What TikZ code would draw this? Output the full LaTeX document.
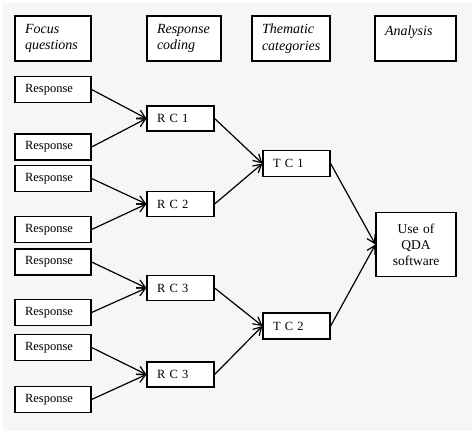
\documentclass[tikz,border=0pt]{standalone}
\usepackage{fontspec}
\setmainfont{Liberation Serif}
\usetikzlibrary{arrows.meta}

\begin{document}
\begin{tikzpicture}[
            x = 1pt, y = -1pt, % pixel like units, y downwards
            > = {Straight Barb[length=8pt,width=9pt]}, % arrow head style
            line width = 1.2pt
        ]

        \tikzset{
            box/.style = {
                draw,
                fill = white,
                inner xsep = 10pt,
                inner ysep = 0pt,
                align = left,
                font = \fontsize{12.5}{15}\selectfont
            },
            head/.style = {
                box,
                minimum height = 45pt,
                font = \fontsize{14}{16.5}\selectfont\itshape
            },
            resp/.style = {box, text width = 56pt, minimum height = 26pt},
            code/.style = {box, text width = 47pt, minimum height = 25pt},
            flow/.style = {->, line width = 1.2pt}
        }

        \useasboundingbox (0,0) rectangle (474,434);
        \fill[gray!7] (3,3) rectangle (472,431);

	% column headings
        \node[head, text width = 56pt] (FQ) at (53,38.5) {Focus\\questions};
        \node[head, text width = 54pt] (RCh) at (184,38.5) {Response\\coding};
        \node[head, text width = 58pt] (TCh) at (291,38.5) {Thematic\\categories};
        \node[head, text width = 61pt] (An) at (415.5,38.5) {Analysis\\~};

	% focus question responses
        \node[resp] (R1) at (53,89.5) {Response};
        \node[resp] (R2) at (53,147) {Response};
        \node[resp] (R3) at (53,178.5) {Response};
        \node[resp] (R4) at (53,229.5) {Response};
        \node[resp] (R5) at (53,262) {Response};
        \node[resp] (R6) at (53,312.5) {Response};
        \node[resp] (R7) at (53,347.5) {Response};
        \node[resp] (R8) at (53,399.5) {Response};

	% response coding
        \node[code] (RC1) at (180.5,118.5) {R C 1};
        \node[code] (RC2) at (180.5,204) {R C 2};
        \node[code] (RC3) at (180.5,288) {R C 3};
        \node[code] (RC4) at (180.5,374.5) {R C 3};

        \draw[flow] (R1.east) -- (RC1.west);
        \draw[flow] (R2.east) -- (RC1.west);
        \draw[flow] (R3.east) -- (RC2.west);
        \draw[flow] (R4.east) -- (RC2.west);
        \draw[flow] (R5.east) -- (RC3.west);
        \draw[flow] (R6.east) -- (RC3.west);
        \draw[flow] (R7.east) -- (RC4.west);
        \draw[flow] (R8.east) -- (RC4.west);

	% thematic categories
        \node[code, minimum height = 26pt] (TC1) at (296.5,163.5) {T C 1};
        \node[code, minimum height = 26pt] (TC2) at (296.5,326) {T C 2};

        \draw[flow] (RC1.east) -- (TC1.west);
        \draw[flow] (RC2.east) -- (TC1.west);
        \draw[flow] (RC3.east) -- (TC2.west);
        \draw[flow] (RC4.east) -- (TC2.west);

	% analysis
        \node[box, align = center, text width = 60pt, minimum height = 64pt,
              font = \fontsize{13.5}{16}\selectfont] (QDA) at (416,244.5)
              {Use of\\QDA\\software};

        \draw[flow] (TC1.east) -- (QDA.west);
        \draw[flow] (TC2.east) -- (QDA.west);

\end{tikzpicture}
\end{document}
